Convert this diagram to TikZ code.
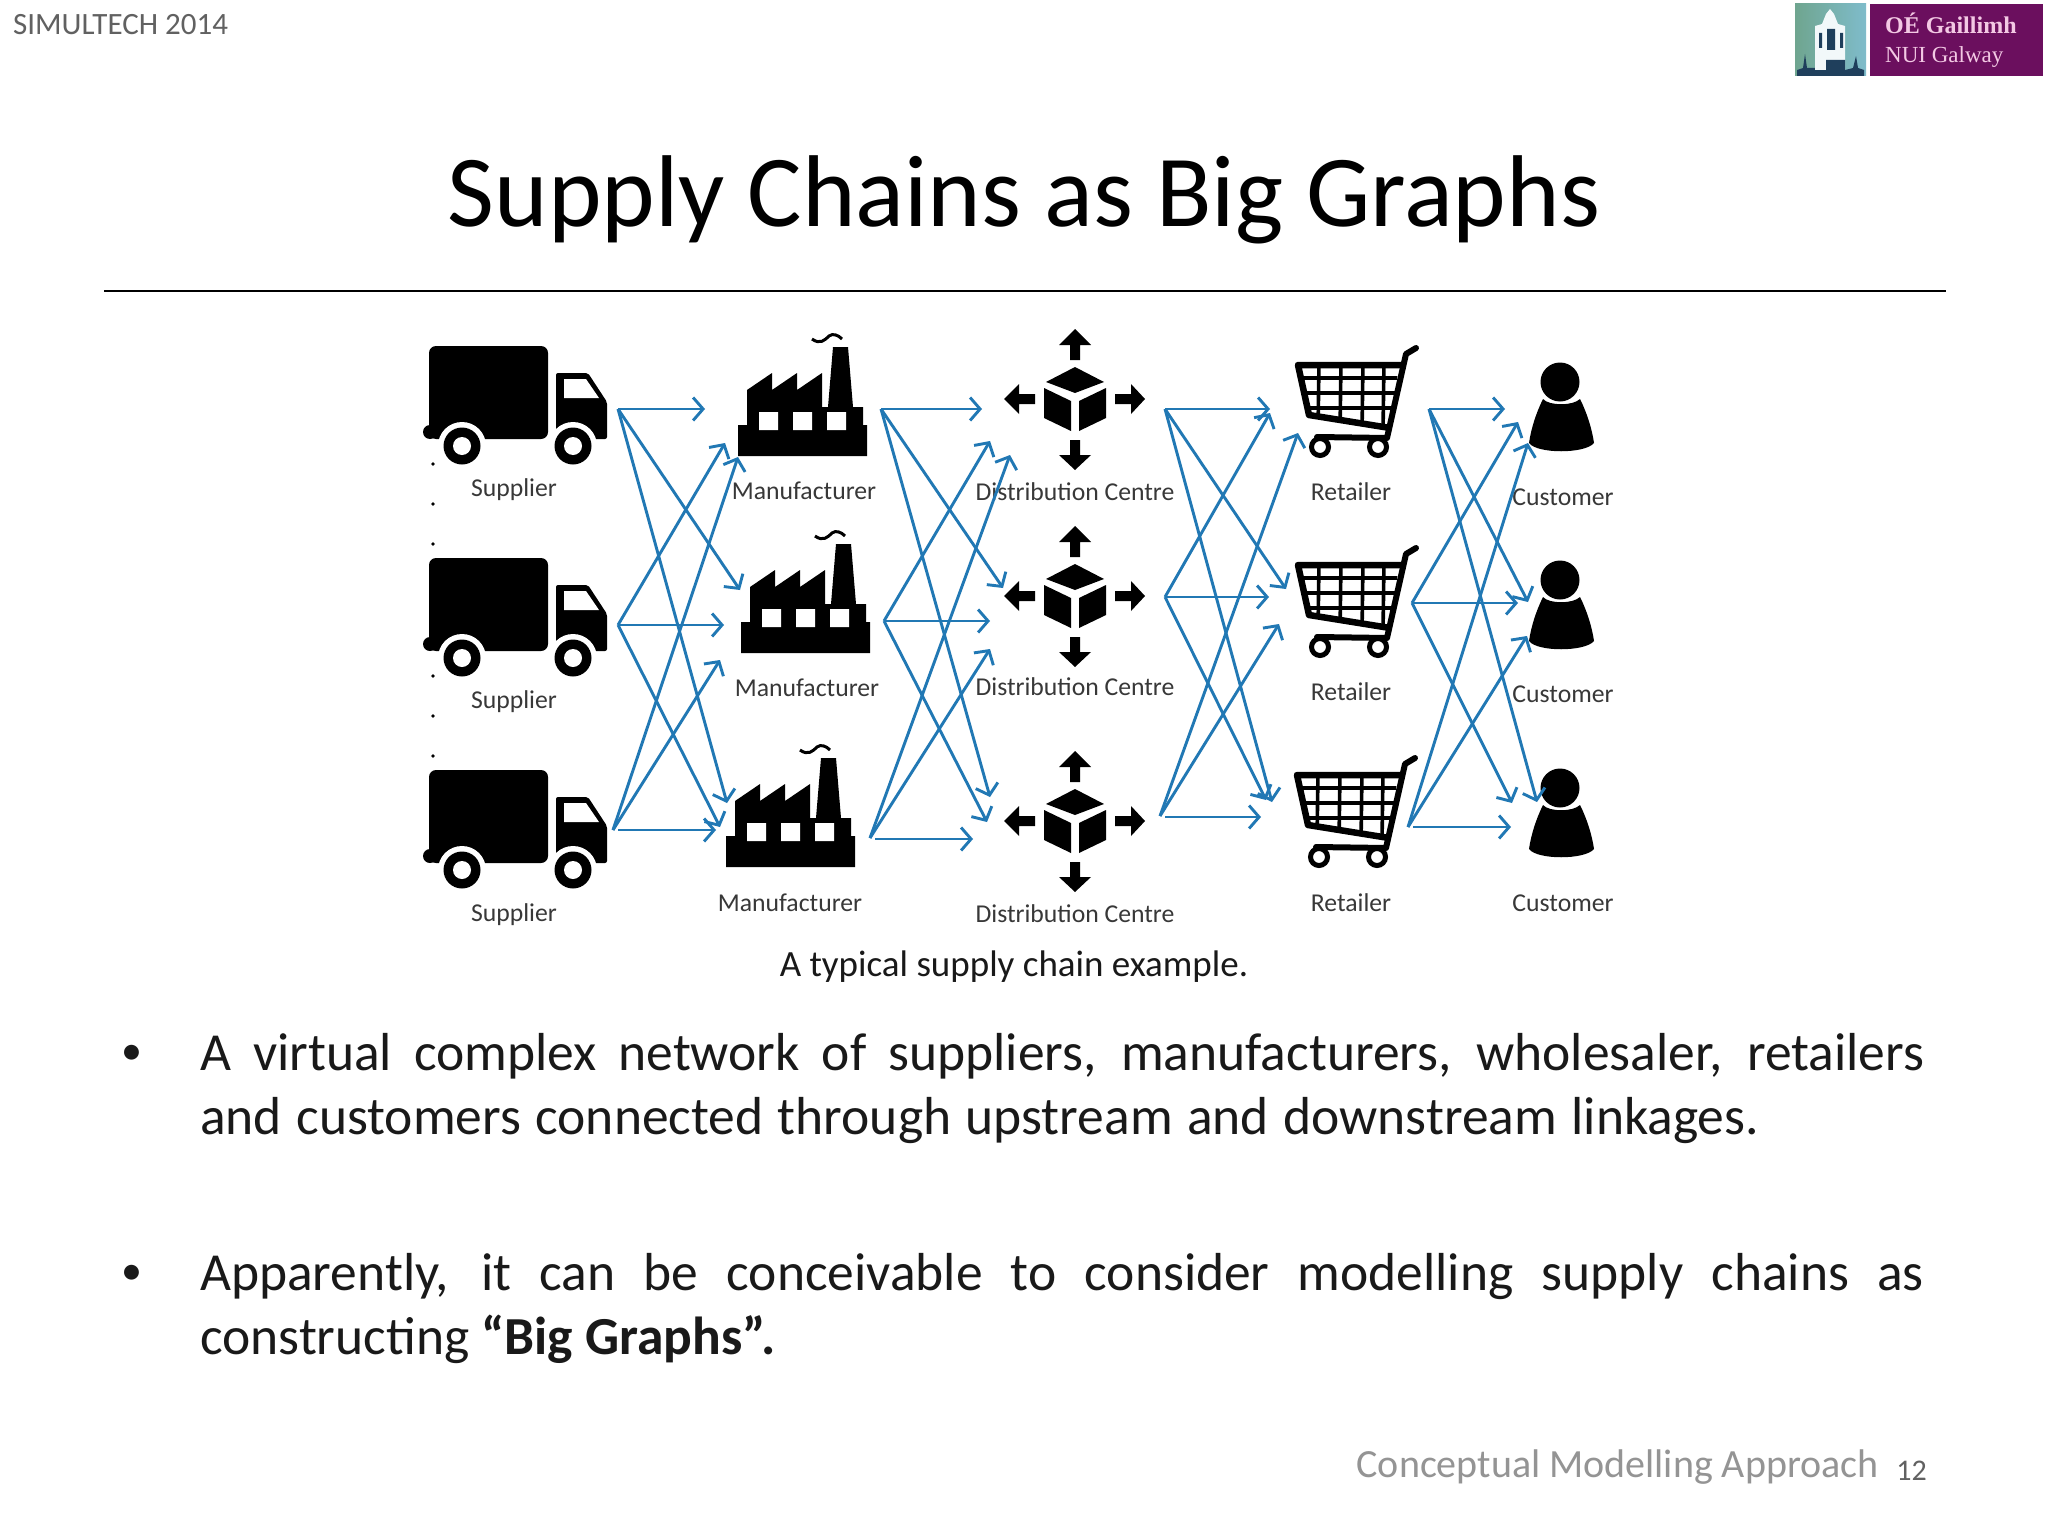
\documentclass[tikz,border=0pt]{standalone}
\usepackage{fontspec}
\setmainfont{Carlito}
\newfontfamily\logofont{Liberation Serif}
\usetikzlibrary{arrows.meta}
\definecolor{flowblue}{HTML}{2178B4}
\definecolor{logopurple}{HTML}{6B0F5E}
\definecolor{logopink}{HTML}{F3C9E4}
\definecolor{logonavy}{HTML}{1F3F5C}
\definecolor{logogreen}{HTML}{6FA58F}
\definecolor{logosky}{HTML}{7FBCCB}
\tikzset{
  flow/.style={draw=flowblue,line width=2.9pt,-{Straight Barb[length=10pt,width=23pt,line width=2.9pt]}},
  lab/.style={font=\fontsize{25.7}{30}\selectfont,text=black!78,inner sep=0pt,anchor=center},
  bodytext/.style={font=\fontsize{53.5}{62}\selectfont,text=black!90,inner sep=0pt,anchor=base west},
  bulletmark/.style={font=\fontsize{42}{50}\selectfont,text=black!90,inner sep=0pt,anchor=center},
  truck/.pic={
    \fill[rounded corners=7pt] (429,346) -- (548,346) -- (548,439) -- (429,439) -- cycle;
    \fill (430,432) circle (7);
    \fill[rounded corners=2pt] (556,373) -- (588,373) -- (607,402) -- (607,439) -- (556,439) -- cycle;
    \fill[white] (564,379) -- (586,379) -- (599,398) -- (564,398) -- cycle;
    \foreach \wx in {462,573}{
      \fill[white] (\wx,446) circle (24);
      \fill (\wx,446) circle (18.5);
      \fill[white] (\wx,446) circle (9);
    }
  },
  factory/.pic={
    \fill (738,456) -- (738,425) -- (747,425) -- (747,390) -- (772,373) -- (772,390) -- (797,373) -- (797,390)
      -- (822,373) -- (822,407) -- (828,407) -- (833,347) -- (848,347) -- (853,407) -- (863,407) -- (863,425)
      -- (867,425) -- (867,456) -- cycle;
    \fill[white] (759,412) rectangle (778,430) (793,412) rectangle (812,430) (827,412) rectangle (846,430);
    \draw[line width=3pt] (812,339) .. controls (820,345) and (825,340) .. (829,336) .. controls (833,333) and (838,335) .. (842,339);
  },
  depot/.pic={
    \fill (0,-32) -- (29,-17) -- (0,-6) -- (-29,-17) -- cycle;
    \fill (-31,-11) -- (-4,2) -- (-4,32) -- (-31,19) -- cycle;
    \fill (31,-11) -- (4,2) -- (4,32) -- (31,19) -- cycle;
    \fill (0,-70) -- (16,-54) -- (5,-54) -- (5,-39) -- (-5,-39) -- (-5,-54) -- (-16,-54) -- cycle;
    \fill (0,71) -- (16,56) -- (5,56) -- (5,41) -- (-5,41) -- (-5,56) -- (-16,56) -- cycle;
    \fill (-71,0) -- (-56,-15) -- (-56,-5) -- (-40,-5) -- (-40,5) -- (-56,5) -- (-56,15) -- cycle;
    \fill (70,0) -- (56,-15) -- (56,-5) -- (40,-5) -- (40,5) -- (56,5) -- (56,15) -- cycle;
  },
  cart/.pic={
    \begin{scope}[line width=3.6pt]
      \clip (1298,365) -- (1399,365) -- (1390,428) -- (1309,417) -- cycle;
      \foreach \gx in {1319,1341,1363,1384}{\draw (\gx,360) -- (\gx-1,432);}
      \foreach \gy in {378,393,408}{\draw (1295,\gy) -- (1405,\gy);}
    \end{scope}
    \draw[line width=6pt,line join=round,line cap=round] (1416,348) -- (1406,354) -- (1387,438) -- (1317,437);
    \draw[line width=6.5pt,line join=round] (1390,428) -- (1309,415) -- (1298,365) -- (1401,365);
    \draw[line width=5pt] (1320,447) circle (8.5) (1378,447) circle (8.5);
  },
  person/.pic={
    \fill (1560,382) circle (19.5);
    \fill (1543,399) .. controls (1549,406) and (1573,406) .. (1580,399)
      .. controls (1587,413) and (1592,429) .. (1594,443)
      .. controls (1585,454) and (1537,454) .. (1529,443)
      .. controls (1531,429) and (1536,413) .. (1543,399) -- cycle;
  }
}
\begin{document}
\begin{tikzpicture}[x=1pt,y=-1pt]
\useasboundingbox (0,0) rectangle (2048,1536);
\fill[white] (0,0) rectangle (2048,1536);

% header
\node[font=\fontsize{31}{36}\selectfont,text=black!62,inner sep=0pt,anchor=base west] (conf) at (13,35) {SIMULTECH 2014};
\shade[left color=logogreen,right color=logosky] (1795,4) rectangle (1866,76);
\fill[logonavy] (1797,76) -- (1797,70) -- (1803,68) -- (1805,54) -- (1807,68) -- (1815,68) -- (1815,70) -- (1845,70) -- (1853,68) -- (1856,56) -- (1858,68) -- (1864,70) -- (1864,76) -- cycle;
\fill[white!90!logosky] (1815,70) -- (1815,26) -- (1822,24) -- (1826,14) -- (1830,9) -- (1834,14) -- (1838,24) -- (1845,26) -- (1845,70) -- cycle;
\fill[logonavy] (1827,29) rectangle (1835,50) (1819,33) rectangle (1822,48) (1840,33) rectangle (1843,48) (1826,60) rectangle (1845,70);
\fill[logopurple] (1870,4) rectangle (2043,76);
\node[font=\logofont\bfseries\fontsize{24}{28}\selectfont,text=logopink,inner sep=0pt,anchor=base west] (logoa) at (1885,34) {OÉ Gaillimh};
\node[font=\logofont\fontsize{23}{28}\selectfont,text=logopink,inner sep=0pt,anchor=base west] (logob) at (1885,63) {NUI Galway};

% title
\node[font=\fontsize{102}{110}\selectfont,inner sep=0pt,anchor=base] (title) at (1024,226) {Supply Chains as Big Graphs};
\draw[line width=2pt] (104,291) -- (1946,291);

% icons
\pic at (0,0) {truck};
\pic at (0,212) {truck};
\pic at (0,424) {truck};
\foreach \dy in {464,504,544,676,716,756}{\fill (433,\dy) circle (1.8);}
\pic at (0,0) {factory};
\pic at (3,197) {factory};
\pic at (-12,411) {factory};
\pic at (1075,399) {depot};
\pic at (1075,596) {depot};
\pic at (1075,821) {depot};
\pic at (0,0) {cart};
\pic at (0,200) {cart};
\pic at (-1,410) {cart};
\pic at (0,0) {person};
\pic at (0,198) {person};
\pic at (0,406) {person};

% labels
\foreach \n/\x/\y/\t in {
 a1/514/490/Supplier, a2/514/702/Supplier, a3/514/915/Supplier,
 b1/804/491/Manufacturer, b2/807/688/Manufacturer, b3/790/903/Manufacturer,
 c1/1075/492/Distribution Centre, c2/1075/687/Distribution Centre, c3/1075/914/Distribution Centre,
 d1/1351/492/Retailer, d2/1351/692/Retailer, d3/1351/903/Retailer,
 e1/1563/497/Customer, e2/1563/694/Customer, e3/1563/903/Customer}{
  \node[lab] (\n) at (\x,\y) {\t};
}

% connector ends
\foreach \n/\x/\y in {
 sa/618/409, sb/618/625, sc/613/830, scs/618/830,
 ma/705/409, mb/740/590, mc/727/803, md/725/443, me/724/625, mf/720/827, mg/738/457, mh/720/660, mi/716/830,
 na/881/409, nb/884/621, nc/870/838, ncs/875/839,
 pa/982/409, pb/1003/588, pc/990/797, pd/990/441, pe/990/621, pf/987/822, pg/1010/455, ph/990/649, pi/973/839,
 qa/1165/409, qb/1165/597, qc/1160/816, qcs/1165/817,
 ra/1270/409, rb/1286/589, rc/1272/802, rd/1270/413, re/1269/597, rf/1266/800, rg/1298/433, rh/1279/624, ri/1261/817,
 ta/1429/409, tb/1412/603, tc/1408/827, tcs/1413/827,
 ua/1505/409, ub/1528/602, uc/1537/802, ud/1518/422, ue/1518/603, uf/1512/803, ug/1528/443, uh/1527/636, ui/1511/827}{
  \coordinate (\n) at (\x,\y);
}

% connectors
\foreach \s/\e in {sa/ma,sa/mb,sa/mc,sb/md,sb/me,sb/mf,sc/mg,sc/mh,scs/mi,
  na/pa,na/pb,na/pc,nb/pd,nb/pe,nb/pf,nc/pg,nc/ph,ncs/pi,
  qa/ra,qa/rb,qa/rc,qb/rd,qb/re,qb/rf,qc/rg,qc/rh,qcs/ri,
  ta/ua,ta/ub,ta/uc,tb/ud,tb/ue,tb/uf,tc/ug,tc/uh,tcs/ui}{
  \draw[flow] (\s) -- (\e);
}

% caption and body
\node[font=\fontsize{37}{42}\selectfont,text=black!90,inner sep=0pt,anchor=base] (cap) at (1014,976) {A typical supply chain example.};
\node[bulletmark] (bu1) at (132,1055) {•};
\node[bodytext] (l1) at (200,1070) {\makebox[1724pt][s]{A virtual complex network of suppliers, manufacturers, wholesaler, retailers}};
\node[bodytext] (l2) at (200,1134) {\makebox[1559pt][s]{and customers connected through upstream and downstream linkages.}};
\node[bulletmark] (bu2) at (132,1275) {•};
\node[bodytext] (l3) at (200,1290) {\makebox[1724pt][s]{Apparently, it can be conceivable to consider modelling supply chains as}};
\node[bodytext] (l4) at (200,1354) {constructing \textbf{“Big Graphs”.}};

% footer
\node[font=\fontsize{40}{46}\selectfont,text=black!42,inner sep=0pt,anchor=base east] (foot) at (1879,1477) {Conceptual Modelling Approach};
\node[font=\fontsize{30}{36}\selectfont,text=black!62,inner sep=0pt,anchor=base east] (num) at (1927,1480) {12};
\end{tikzpicture}
\end{document}
